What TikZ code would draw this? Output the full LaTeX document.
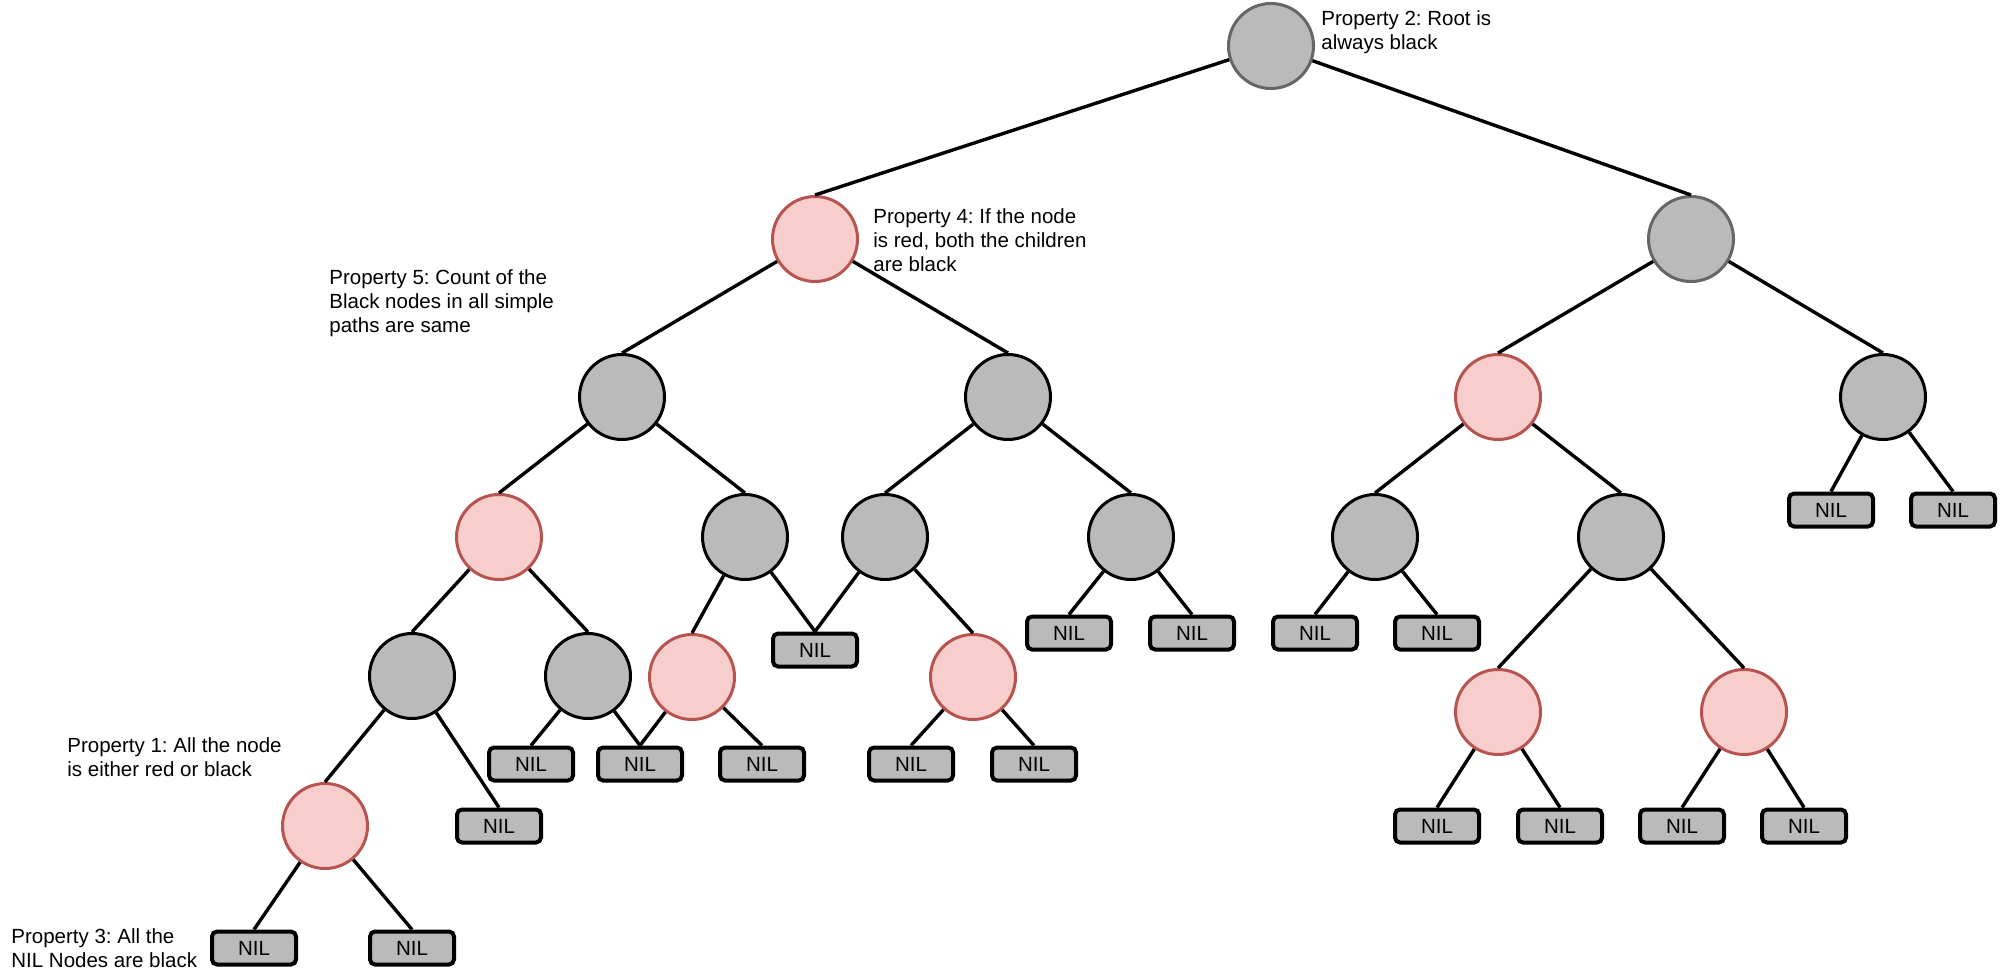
\documentclass[tikz,border=0pt]{standalone}
\usepackage{fontspec}
\setmainfont{Liberation Sans}
\definecolor{grayfill}{HTML}{BABABA}
\definecolor{redfill}{HTML}{F8CECC}
\definecolor{redline}{HTML}{B85450}
\definecolor{rootline}{HTML}{666666}
\frenchspacing
\begin{document}
\begin{tikzpicture}[x=0.5pt,y=-0.5pt,
  bn/.style={circle,draw=black,fill=grayfill,line width=1.5pt,minimum size=42.5pt,inner sep=0pt},
  rn/.style={circle,draw=redline,fill=redfill,line width=1.5pt,minimum size=42.5pt,inner sep=0pt},
  gn/.style={bn,draw=rootline},
  nil/.style={draw=black,fill=grayfill,line width=2pt,rounded corners=2.5pt,minimum width=42pt,minimum height=16.5pt,inner sep=0pt,font=\fontsize{10.25}{12}\selectfont},
  lbl/.style={anchor=north west,inner sep=0pt,align=left,font=\fontsize{10.25}{12}\selectfont},
  link/.style={line width=1.7pt}
]
\useasboundingbox (0,0) rectangle (2000,974);
% level 0/1
\node[gn] (root) at (1271,46) {};
\node[gn] (r1) at (1691,239) {};
\node[rn] (l1) at (815,239) {};
% level 2
\node[bn] (a) at (622,397) {};
\node[bn] (b) at (1008,397) {};
\node[rn] (c) at (1498,397) {};
\node[bn] (d) at (1883,397) {};
% level 3
\node[rn] (a1) at (499,537) {};
\node[bn] (a2) at (745,537) {};
\node[bn] (b1) at (885,537) {};
\node[bn] (b2) at (1131,537) {};
\node[bn] (c1) at (1375,537) {};
\node[bn] (c2) at (1621,537) {};
\node[nil] (nd1) at (1831,510) {NIL};
\node[nil] (nd2) at (1953,510) {NIL};
% level 4
\node[bn] (a1a) at (412,676) {};
\node[bn] (a1b) at (588,676) {};
\node[rn] (a2a) at (692,677) {};
\node[nil] (nab) at (815,650) {NIL};
\node[rn] (b1b) at (973,677) {};
\node[nil] (nb2a) at (1069,633) {NIL};
\node[nil] (nb2b) at (1192,633) {NIL};
\node[nil] (nc1a) at (1315,633) {NIL};
\node[nil] (nc1b) at (1437,633) {NIL};
\node[rn] (c2a) at (1498,712) {};
\node[rn] (c2b) at (1744,712) {};
% level 5
\node[rn] (a1aa) at (325,826) {};
\node[nil] (na1ab) at (499,826) {NIL};
\node[nil] (na1ba) at (531,764) {NIL};
\node[nil] (nshared) at (640,764) {NIL};
\node[nil] (na2ab) at (762,764) {NIL};
\node[nil] (nb1ba) at (911,764) {NIL};
\node[nil] (nb1bb) at (1034,764) {NIL};
\node[nil] (nc2aa) at (1437,826) {NIL};
\node[nil] (nc2ab) at (1560,826) {NIL};
\node[nil] (nc2ba) at (1682,826) {NIL};
\node[nil] (nc2bb) at (1804,826) {NIL};
% level 6
\node[nil] (nla) at (254,948) {NIL};
\node[nil] (nlb) at (412,948) {NIL};
% edges
\draw[link] (root) -- (l1.north);
\draw[link] (root) -- (r1.north);
\draw[link] (l1) -- (a.north);
\draw[link] (l1) -- (b.north);
\draw[link] (r1) -- (c.north);
\draw[link] (r1) -- (d.north);
\draw[link] (a) -- (a1.north);
\draw[link] (a) -- (a2.north);
\draw[link] (b) -- (b1.north);
\draw[link] (b) -- (b2.north);
\draw[link] (c) -- (c1.north);
\draw[link] (c) -- (c2.north);
\draw[link] (d) -- (nd1.north);
\draw[link] (d) -- (nd2.north);
\draw[link] (a1) -- (a1a.north);
\draw[link] (a1) -- (a1b.north);
\draw[link] (a2) -- (a2a.north);
\draw[link] (a2) -- (nab.north);
\draw[link] (b1) -- (nab.north);
\draw[link] (b1) -- (b1b.north);
\draw[link] (b2) -- (nb2a.north);
\draw[link] (b2) -- (nb2b.north);
\draw[link] (c1) -- (nc1a.north);
\draw[link] (c1) -- (nc1b.north);
\draw[link] (c2) -- (c2a.north);
\draw[link] (c2) -- (c2b.north);
\draw[link] (a1a) -- (a1aa.north);
\draw[link] (a1a) -- (na1ab.north);
\draw[link] (a1b) -- (na1ba.north);
\draw[link] (a1b) -- (nshared.north);
\draw[link] (a2a) -- (nshared.north);
\draw[link] (a2a) -- (na2ab.north);
\draw[link] (b1b) -- (nb1ba.north);
\draw[link] (b1b) -- (nb1bb.north);
\draw[link] (c2a) -- (nc2aa.north);
\draw[link] (c2a) -- (nc2ab.north);
\draw[link] (c2b) -- (nc2ba.north);
\draw[link] (c2b) -- (nc2bb.north);
\draw[link] (a1aa) -- (nla.north);
\draw[link] (a1aa) -- (nlb.north);
% labels
\node[lbl] (p2) at (1321,10) {Property 2: Root is\\always black};
\node[lbl] (p4) at (873,208) {Property 4: If the node\\is red, both the children\\are black};
\node[lbl] (p5) at (329,269) {Property 5: Count of the\\Black nodes in all simple\\paths are same};
\node[lbl] (p1) at (67,737) {Property 1: All the node\\is either red or black};
\node[lbl] (p3) at (11,928) {Property 3: All the\\NIL Nodes are black};
\end{tikzpicture}
\end{document}
